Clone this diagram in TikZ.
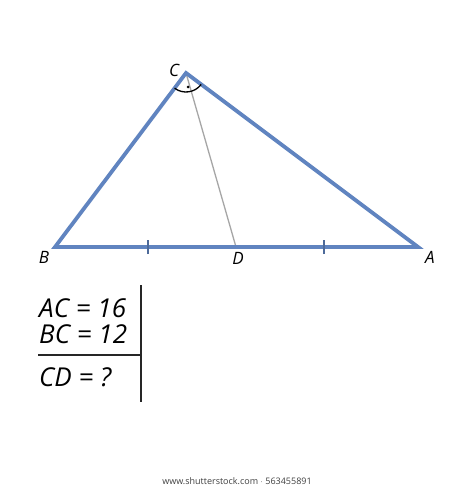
\documentclass[tikz,border=0pt]{standalone}
\usepackage{fontspec}
\setmainfont{Open Sans}
\begin{document}
\begin{tikzpicture}[x=1pt,y=-1pt,
  side/.style={draw=triblue,line width=3.8pt,line join=miter},
  vlabel/.style={font=\itshape\fontsize{17}{17}\selectfont,inner sep=0pt},
  eqtext/.style={font=\itshape\fontsize{26}{26}\selectfont,inner sep=0pt,anchor=base west},
  rule/.style={draw=black!85,line width=1.6pt},
  tick/.style={draw=triblue!80!black,line width=1.4pt}]
\definecolor{triblue}{RGB}{96,132,192}
\useasboundingbox (0,0) rectangle (474,489);
\fill[white] (0,0) rectangle (474,489);
% vertices
\coordinate (B) at (55,247);
\coordinate (A) at (418,247);
\coordinate (C) at (186,73);
\coordinate (D) at (236,247);
\coordinate (M1) at (148,247);
\coordinate (M2) at (324,247);
% bisector
\draw[draw=gray!70,line width=1.3pt] (C) -- (D);
% triangle
\draw[side] (B) -- (A) -- (C) -- cycle;
% ticks
\draw[tick] ([yshift=-7]M1) -- ([yshift=7]M1);
\draw[tick] ([yshift=-7]M2) -- ([yshift=7]M2);
% angle mark
\draw[black,line width=1.3pt] ([shift={(37:19)}]C) arc[start angle=37,end angle=127,radius=19];
\fill[black] (188,87) circle (1.5);
% labels
\node[vlabel] (lC) at (174,70) {C};
\node[vlabel] (lB) at (44,257) {B};
\node[vlabel] (lD) at (238,258) {D};
\node[vlabel] (lA) at (430,257) {A};
% given
\node[eqtext] (eq1) at (39,317) {AC = 16};
\node[eqtext] (eq2) at (39,343) {BC = 12};
\node[eqtext] (eq3) at (39,386) {CD = ?};
\coordinate (vt) at (141,285);
\coordinate (vb) at (141,402);
\coordinate (hl) at (38,355);
\coordinate (hr) at (141,355);
\draw[rule] (vt) -- (vb);
\draw[rule] (hl) -- (hr);
% footer
\node[font=\fontsize{9}{9}\selectfont,text=black!75,inner sep=0pt] (foot) at (237,481) {www.shutterstock.com $\cdot$ 563455891};
\end{tikzpicture}
\end{document}
